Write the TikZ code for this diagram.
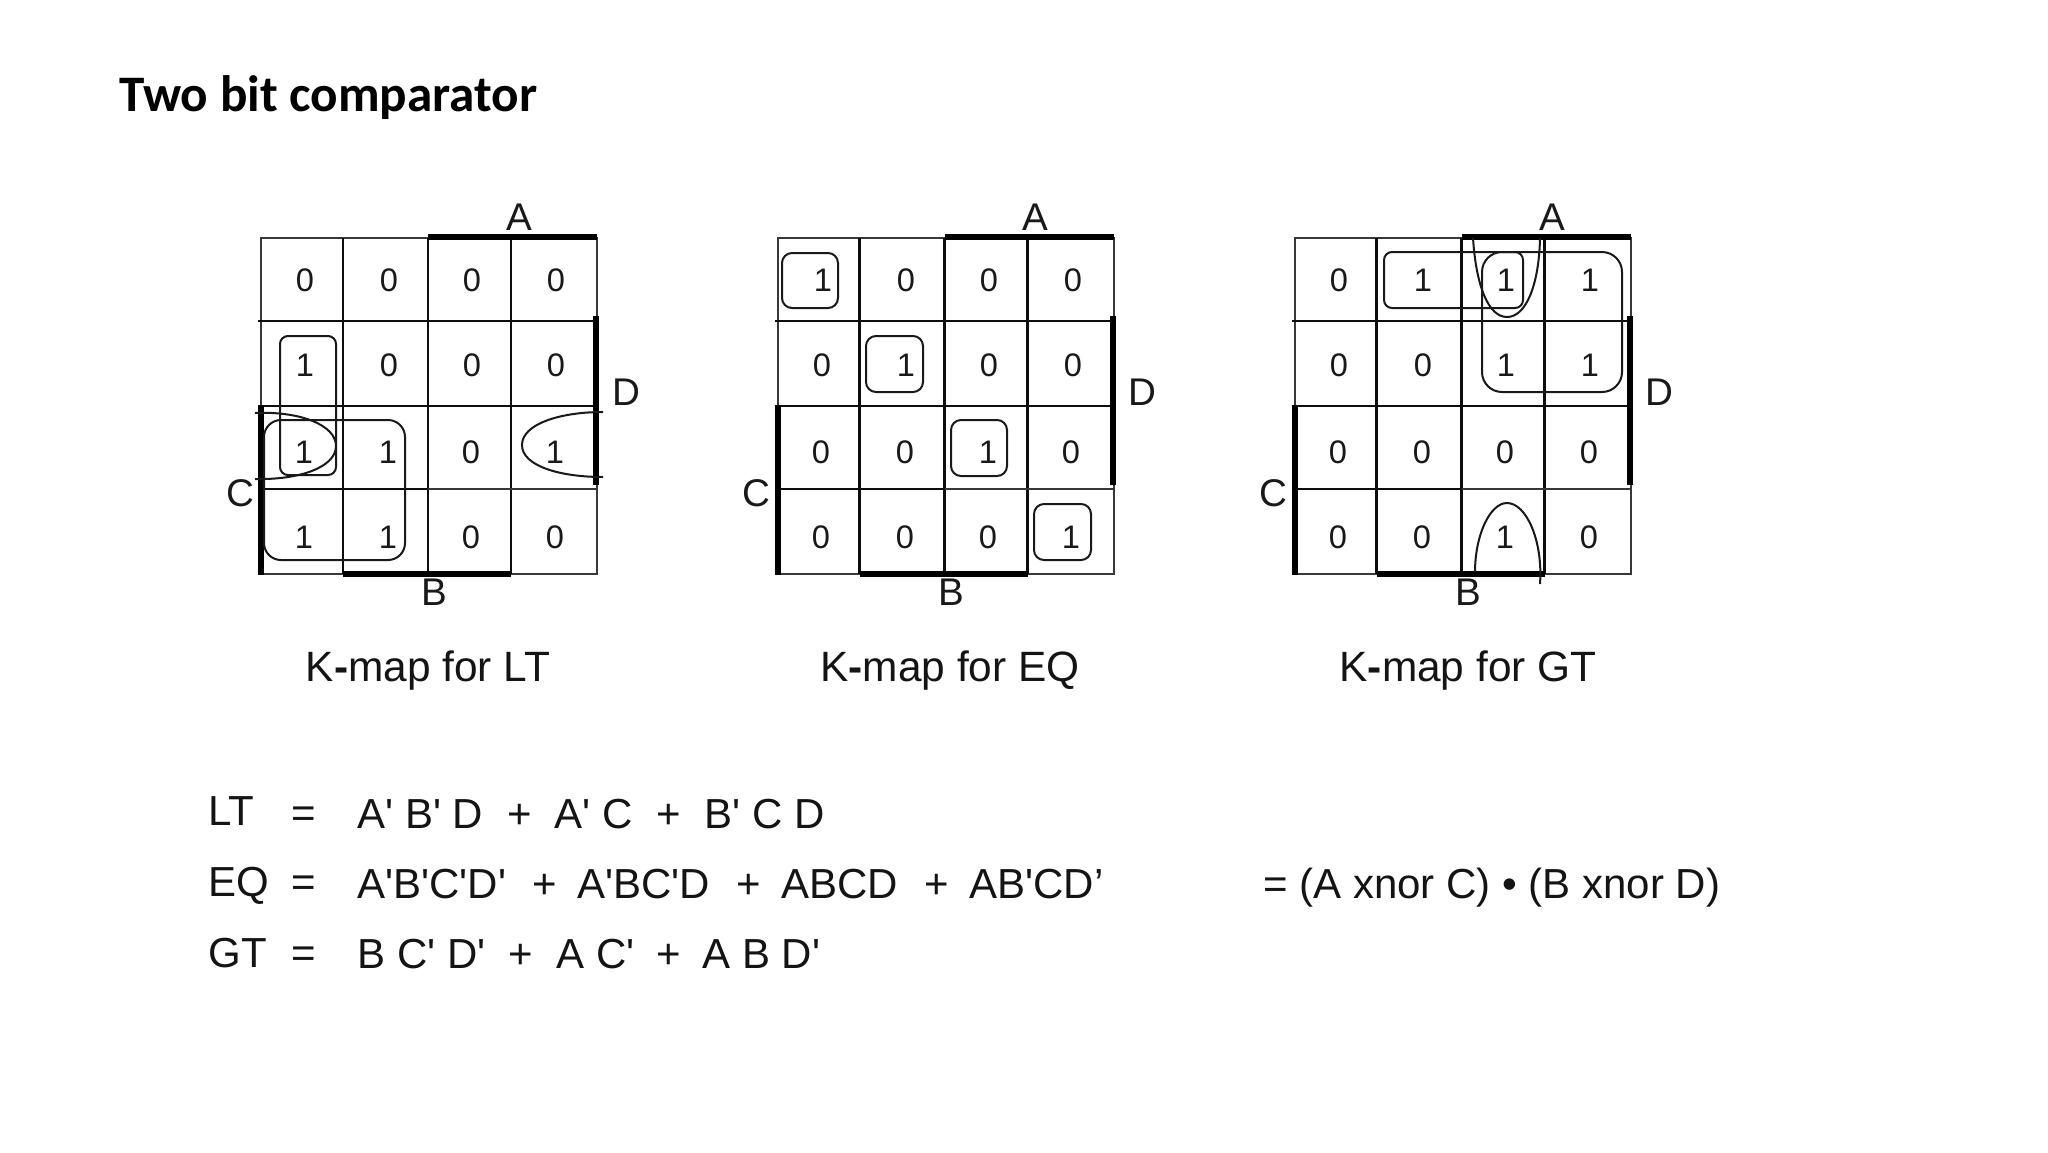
\documentclass[tikz,border=0pt]{standalone}
\usepackage{fontspec}
\setmainfont{Liberation Sans}
\newfontfamily\plainsans{Liberation Sans}
\newfontfamily\titlefont{Carlito}
\newcommand{\fs}[1]{\fontsize{#1}{#1}\selectfont}
\tikzset{
 outl/.style={line width=1pt,draw=black!78},
 midl/.style={line width=1.45pt,draw=black!95},
 thickl/.style={line width=3pt,line cap=butt},
 loopl/.style={line width=1pt,draw=black!90},
 digit/.style={font=\fs{16.3},inner sep=0pt,text=black!90,anchor=center},
 lab/.style={font=\fs{19.3},inner sep=0pt,text=black!90,anchor=center},
 eqtext/.style={font=\plainsans\fs{21},inner sep=0pt,text=black!92,anchor=base west},
 captext/.style={inner sep=0pt,anchor=base,font=\fs{21.2},text=black!92},
}
\newcommand{\kgrid}[2]{%
 \begin{scope}[xshift=#2*0.5pt]
 \draw[outl] (261,238) rectangle (597,574);
 \foreach \xx in {343,428,511} \draw[midl] (\xx,238) -- (\xx,574);
 \foreach \yy in {321,406} \draw[midl] (258,\yy) -- (597,\yy);
 \draw[midl] (258,489) -- (428,489);
 \draw[outl] (428,489) -- (597,489);
 \draw[thickl] (428,237) -- (597,237);
 \draw[thickl] (596,316) -- (596,485);
 \draw[thickl] (261,406) -- (261,575);
 \draw[thickl] (343,574) -- (511,574);
 \node[lab] (#1A) at (519,217) {A};
 \node[lab] (#1B) at (434.5,592) {B};
 \node[lab] (#1C) at (240,493) {C};
 \node[lab] (#1D) at (626,392) {D};
 \end{scope}}
\newcommand{\kd}[4]{\node[digit] (#1) at (#2,#3) {#4};}
\newcommand{\kmin}[3]{\node[captext] (#1) at (#2,681) {K{\bfseries-}map for #3};}
\newcommand{\et}[4]{\node[eqtext] (#1) at (#2,#3) {#4};}
\begin{document}
\begin{tikzpicture}[x=0.5pt,y=-0.5pt]
\useasboundingbox (0,0) rectangle (2048,1152);
\fill[white] (0,0) rectangle (2048,1152);
\node[inner sep=0pt,anchor=base west,font=\titlefont\bfseries\fs{25.6}] (title) at (119,111) {Two bit comparator};
% LT
\kgrid{lt}{0}
\kd{lt11}{305}{280}{0}\kd{lt12}{389}{280}{0}\kd{lt13}{472}{280}{0}\kd{lt14}{556}{280}{0}
\kd{lt21}{305}{365}{1}\kd{lt22}{389}{365}{0}\kd{lt23}{472}{365}{0}\kd{lt24}{556}{365}{0}
\kd{lt31}{304}{452}{1}\kd{lt32}{388}{452}{1}\kd{lt33}{471}{452}{0}\kd{lt34}{555}{452}{1}
\kd{lt41}{304}{537}{1}\kd{lt42}{388}{537}{1}\kd{lt43}{471}{537}{0}\kd{lt44}{555}{537}{0}
\draw[loopl,rounded corners=4pt] (280,336) rectangle (336,475);
\draw[loopl,rounded corners=8.5pt] (264,420) rectangle (405,560);
\draw[loopl] (255,413) .. controls (300,411) and (336,425) .. (336,446) .. controls (336,467) and (300,480) .. (255,479);
\draw[loopl] (603,412) .. controls (560,412) and (522,424) .. (522,445) .. controls (522,466) and (560,477) .. (603,477);
% EQ
\kgrid{eq}{516.5}
\kd{eq11}{823}{280}{1}\kd{eq12}{906}{280}{0}\kd{eq13}{989}{280}{0}\kd{eq14}{1073}{280}{0}
\kd{eq21}{822}{365}{0}\kd{eq22}{906}{365}{1}\kd{eq23}{989}{365}{0}\kd{eq24}{1073}{365}{0}
\kd{eq31}{821}{452}{0}\kd{eq32}{905}{452}{0}\kd{eq33}{988}{452}{1}\kd{eq34}{1071}{452}{0}
\kd{eq41}{821}{537}{0}\kd{eq42}{905}{537}{0}\kd{eq43}{988}{537}{0}\kd{eq44}{1071}{537}{1}
\draw[loopl,rounded corners=5pt] (782,253) rectangle (838,308);
\draw[loopl,rounded corners=5pt] (866,336) rectangle (923,392);
\draw[loopl,rounded corners=5pt] (951,420) rectangle (1007,476);
\draw[loopl,rounded corners=5pt] (1034,504) rectangle (1091,560);
% GT
\kgrid{gt}{1033.6}
\kd{gt11}{1339}{280}{0}\kd{gt12}{1423}{280}{1}\kd{gt13}{1506}{280}{1}\kd{gt14}{1590}{280}{1}
\kd{gt21}{1339}{365}{0}\kd{gt22}{1423}{365}{0}\kd{gt23}{1506}{365}{1}\kd{gt24}{1590}{365}{1}
\kd{gt31}{1338}{452}{0}\kd{gt32}{1422}{452}{0}\kd{gt33}{1505}{452}{0}\kd{gt34}{1589}{452}{0}
\kd{gt41}{1338}{537}{0}\kd{gt42}{1422}{537}{0}\kd{gt43}{1505}{537}{1}\kd{gt44}{1589}{537}{0}
\draw[loopl,rounded corners=4pt] (1384,252) rectangle (1523,308);
\draw[loopl,rounded corners=10pt] (1482,252) rectangle (1622,392);
\draw[loopl] (1473,238) .. controls (1476,285) and (1488,317) .. (1507,317) .. controls (1526,317) and (1539,285) .. (1540,238);
\draw[loopl] (1475,572) .. controls (1475,535) and (1490,503) .. (1507,503) .. controls (1526,503) and (1543,540) .. (1540,584);
% captions
\kmin{capl}{428}{LT}
\kmin{cape}{950}{EQ}
\kmin{capg}{1468}{GT}
% equations
\et{n1}{208}{825}{LT}
\et{n2}{208}{896}{EQ}
\et{n3}{208}{967}{GT}
\et{s1}{291}{827}{=}
\et{s2}{291}{896}{=}
\et{s3}{291}{967}{=}
\et{a1}{357}{828}{A' B' D}
\et{a2}{507}{828}{+}
\et{a3}{554}{828}{A' C}
\et{a4}{656}{828}{+}
\et{a5}{704}{828}{B' C D}
\et{b1}{357}{898}{A'B'C'D'}
\et{b2}{532}{898}{+}
\et{b3}{577}{898}{A'BC'D}
\et{b4}{736}{898}{+}
\et{b5}{781}{898}{ABCD}
\et{b6}{924}{898}{+}
\et{b7}{969}{898}{AB'CD’}
\et{c1}{357}{968}{B C' D'}
\et{c2}{508}{968}{+}
\et{c3}{556}{968}{A C'}
\et{c4}{656}{968}{+}
\et{c5}{702}{968}{A B D'}
\et{x}{1263}{898}{= (A xnor C) • (B xnor D)}
\end{tikzpicture}
\end{document}
